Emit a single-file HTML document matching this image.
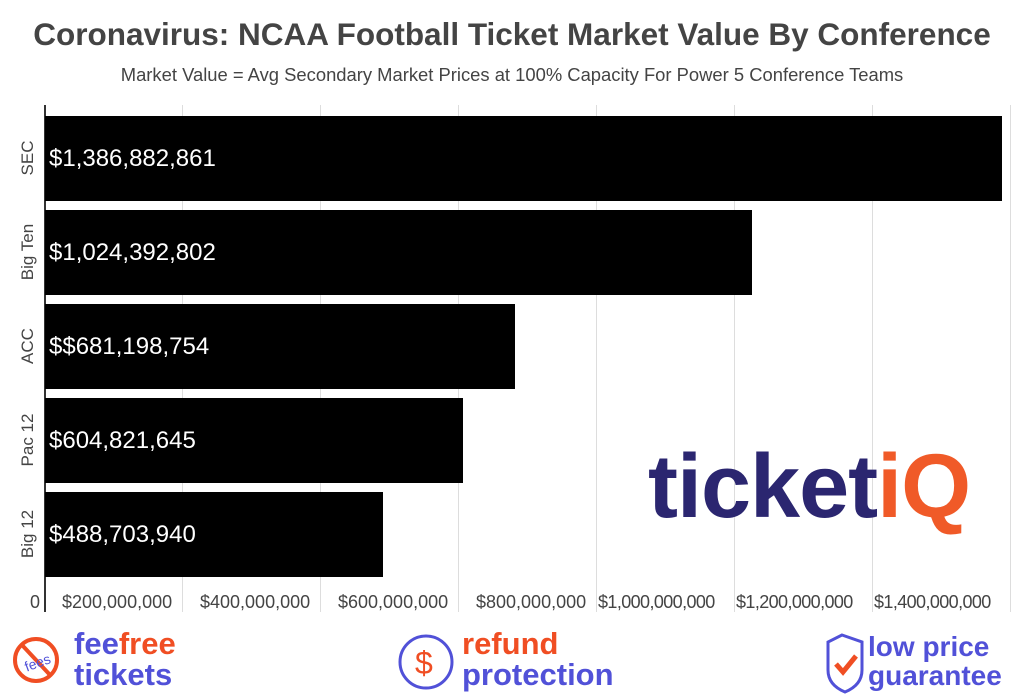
<!DOCTYPE html>
<html><head><style>
body{margin:0;width:1024px;height:700px;background:#fff;font-family:"Liberation Sans",sans-serif;overflow:hidden;position:relative}
.t{position:absolute;white-space:nowrap}
.g{position:absolute;top:105px;height:507px;width:1px;background:#ddd}
.bar{position:absolute;left:45px;background:#000;height:85px;color:#fff;font-size:24px;line-height:85px;padding-left:4px;box-sizing:border-box}
.yl{position:absolute;left:28px;color:#444;font-size:17px;transform:translate(-50%,-50%) rotate(-90deg);white-space:nowrap}
.tk{position:absolute;top:592px;font-size:18px;color:#444;text-align:right}
</style></head><body>
<div class="t" style="left:0;width:1024px;text-align:center;top:16px;font-size:31.5px;font-weight:bold;color:#444">Coronavirus: NCAA Football Ticket Market Value By Conference</div>
<div class="t" style="left:0;width:1024px;text-align:center;top:64px;font-size:18.4px;color:#444">Market Value = Avg Secondary Market Prices at 100% Capacity For Power 5 Conference Teams</div>
<div class="g" style="left:182px"></div><div class="g" style="left:320px"></div><div class="g" style="left:458px"></div><div class="g" style="left:596px"></div><div class="g" style="left:734px"></div><div class="g" style="left:872px"></div><div class="g" style="left:1010px"></div>
<div style="position:absolute;left:44px;top:105px;width:2px;height:507px;background:#333"></div>
<div class="bar" style="top:116px;width:957px">$1,386,882,861</div>
<div class="bar" style="top:210px;width:707px">$1,024,392,802</div>
<div class="bar" style="top:304px;width:470px">$$681,198,754</div>
<div class="bar" style="top:398px;width:418px">$604,821,645</div>
<div class="bar" style="top:492px;width:338px">$488,703,940</div>
<div class="yl" style="top:158px">SEC</div>
<div class="yl" style="top:252px">Big Ten</div>
<div class="yl" style="top:346px">ACC</div>
<div class="yl" style="top:440px">Pac 12</div>
<div class="yl" style="top:534px">Big 12</div>
<div class="tk" style="left:30px">0</div>
<div class="tk" style="left:62px">$200,000,000</div>
<div class="tk" style="left:200px">$400,000,000</div>
<div class="tk" style="left:338px">$600,000,000</div>
<div class="tk" style="left:476px">$800,000,000</div>
<div class="tk" style="left:598px;letter-spacing:-0.6px">$1,000,000,000</div>
<div class="tk" style="left:736px;letter-spacing:-0.6px">$1,200,000,000</div>
<div class="tk" style="left:874px;letter-spacing:-0.6px">$1,400,000,000</div>
<div class="t" style="left:648px;top:436px;font-size:90px;font-weight:bold;color:#2b2670;letter-spacing:-1px">ticket<span style="color:#f05a28">iQ</span></div>
<svg style="position:absolute;left:0;top:620px" width="1024" height="80">
<circle cx="36" cy="40" r="21" fill="none" stroke="#f04e23" stroke-width="4"/>
<line x1="22" y1="25" x2="51" y2="56" stroke="#f04e23" stroke-width="4"/>
<text x="24" y="48" font-size="14" fill="#5151d8" transform="rotate(-20 36 42)" font-family="Liberation Sans">fees</text>
<circle cx="426" cy="42" r="26" fill="none" stroke="#5151d8" stroke-width="3"/>
<text x="415" y="54" font-size="32" fill="#f04e23" font-family="Liberation Sans">$</text>
<path d="M842 15 L862 22 L862 50 Q862 65 845 72 Q828 65 828 50 L828 22 Z" fill="none" stroke="#5151d8" stroke-width="3"/>
<path d="M836 44 L843 52 L856 36" fill="none" stroke="#f04e23" stroke-width="5"/>
</svg>
<div class="t" style="left:74px;top:628px;font-size:31px;font-weight:bold;line-height:31px;color:#5151d8">fee<span style="color:#f04e23">free</span><br>tickets</div>
<div class="t" style="left:462px;top:628px;font-size:31px;font-weight:bold;line-height:31px;color:#f04e23">refund<br><span style="color:#5151d8">protection</span></div>
<div class="t" style="left:868px;top:632px;font-size:28px;font-weight:bold;line-height:29px;color:#5151d8">low price<br>guarantee</div>
</body></html>
